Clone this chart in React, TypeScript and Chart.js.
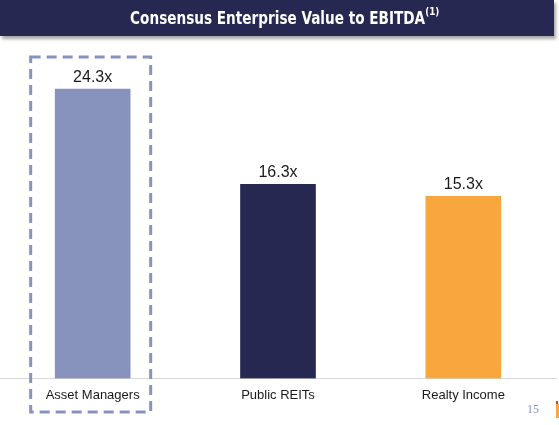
import React, { useEffect, useRef } from "react";
import { Chart, registerables } from "chart.js";

Chart.register(...registerables);

const categories = ["Asset Managers", "Public REITs", "Realty Income"];
const values = [24.3, 16.3, 15.3];
const barColors = ["#8793BC", "#262852", "#F7A73E"];
const titleText = "Consensus Enterprise Value to EBITDA";
const titleNote = "(1)";
const pageNumber = "15";
const highlightIndex = 0;
const yMax = 27;

const valueLabelPlugin = {
  id: "valueLabels",
  afterDatasetsDraw(chart: any) {
    const ctx = chart.ctx;
    const meta = chart.getDatasetMeta(0);
    ctx.save();
    ctx.font = "16px 'Liberation Sans', Arial, sans-serif";
    ctx.fillStyle = "#1a1a1a";
    ctx.textAlign = "center";
    ctx.textBaseline = "alphabetic";
    meta.data.forEach((bar: any, i: number) => {
      ctx.fillText(values[i].toFixed(1) + "x", bar.x, bar.y - 7);
    });
    ctx.restore();
  },
};

const highlightPlugin = {
  id: "highlightBox",
  afterDraw(chart: any) {
    const ctx = chart.ctx;
    const bar: any = chart.getDatasetMeta(0).data[highlightIndex];
    if (!bar) return;
    const left = bar.x - 62;
    const right = bar.x + 58;
    const top = chart.chartArea.top;
    const bottom = chart.height - 13;
    ctx.save();
    ctx.strokeStyle = barColors[highlightIndex];
    ctx.lineWidth = 3;
    ctx.setLineDash([10, 6]);
    ctx.strokeRect(left, top, right - left, bottom - top);
    ctx.restore();
  },
};

function BarChart() {
  const ref = useRef<HTMLCanvasElement | null>(null);
  useEffect(() => {
    if (!ref.current) return;
    const chart = new Chart(ref.current, {
      type: "bar",
      data: {
        labels: categories,
        datasets: [
          {
            data: values,
            backgroundColor: barColors,
            borderWidth: 0,
            barThickness: 75,
          },
        ],
      },
      options: {
        animation: false,
        responsive: false,
        maintainAspectRatio: false,
        layout: { padding: { top: 57, left: 0, right: 3, bottom: 13 } },
        plugins: {
          legend: { display: false },
          tooltip: { enabled: false },
          title: { display: false },
        },
        scales: {
          x: {
            grid: { display: false, drawTicks: false },
            border: { display: true, color: "#D9D9D9", width: 1 },
            ticks: {
              color: "#1a1a1a",
              padding: 9,
              font: { size: 13, family: "'Liberation Sans', Arial, sans-serif" },
            },
          },
          y: { display: false, min: 0, max: yMax },
        },
      },
      plugins: [valueLabelPlugin, highlightPlugin],
    });
    return () => chart.destroy();
  }, []);
  return <canvas ref={ref} width={559} height={425} style={{ position: "absolute", left: 0, top: 0 }} />;
}

export default function App() {
  return (
    <div
      style={{
        position: "fixed",
        left: 0,
        top: 0,
        width: 559,
        height: 425,
        background: "#ffffff",
        overflow: "hidden",
      }}
    >
      <BarChart />
      <div
        style={{
          position: "absolute",
          left: 0,
          top: 0,
          width: 554,
          height: 36,
          background: "#262852",
          boxShadow: "2px 3px 3px rgba(0,0,0,0.35)",
          color: "#ffffff",
          display: "flex",
          alignItems: "center",
          justifyContent: "center",
          paddingLeft: 15,
          boxSizing: "border-box",
          fontFamily: "'DejaVu Sans Condensed', 'Liberation Sans', sans-serif",
          fontWeight: 700,
          fontSize: 17,
        }}
      >
        <span style={{ display: "inline-block", transform: "scaleX(0.89)", whiteSpace: "nowrap" }}>
          {titleText}
          <sup style={{ fontSize: 11, verticalAlign: "top", position: "relative", top: -3 }}>{titleNote}</sup>
        </span>
      </div>
      <div
        style={{
          position: "absolute",
          left: 527,
          top: 402,
          fontFamily: "'Liberation Serif', serif",
          fontSize: 12,
          color: "#8793BC",
        }}
      >
        {pageNumber}
      </div>
      <div style={{ position: "absolute", left: 556, top: 404, width: 3, height: 14, background: "#F7A73E" }} />
      <div style={{ position: "absolute", left: 556, top: 401, width: 2, height: 3, background: "#D9342B" }} />
    </div>
  );
}
